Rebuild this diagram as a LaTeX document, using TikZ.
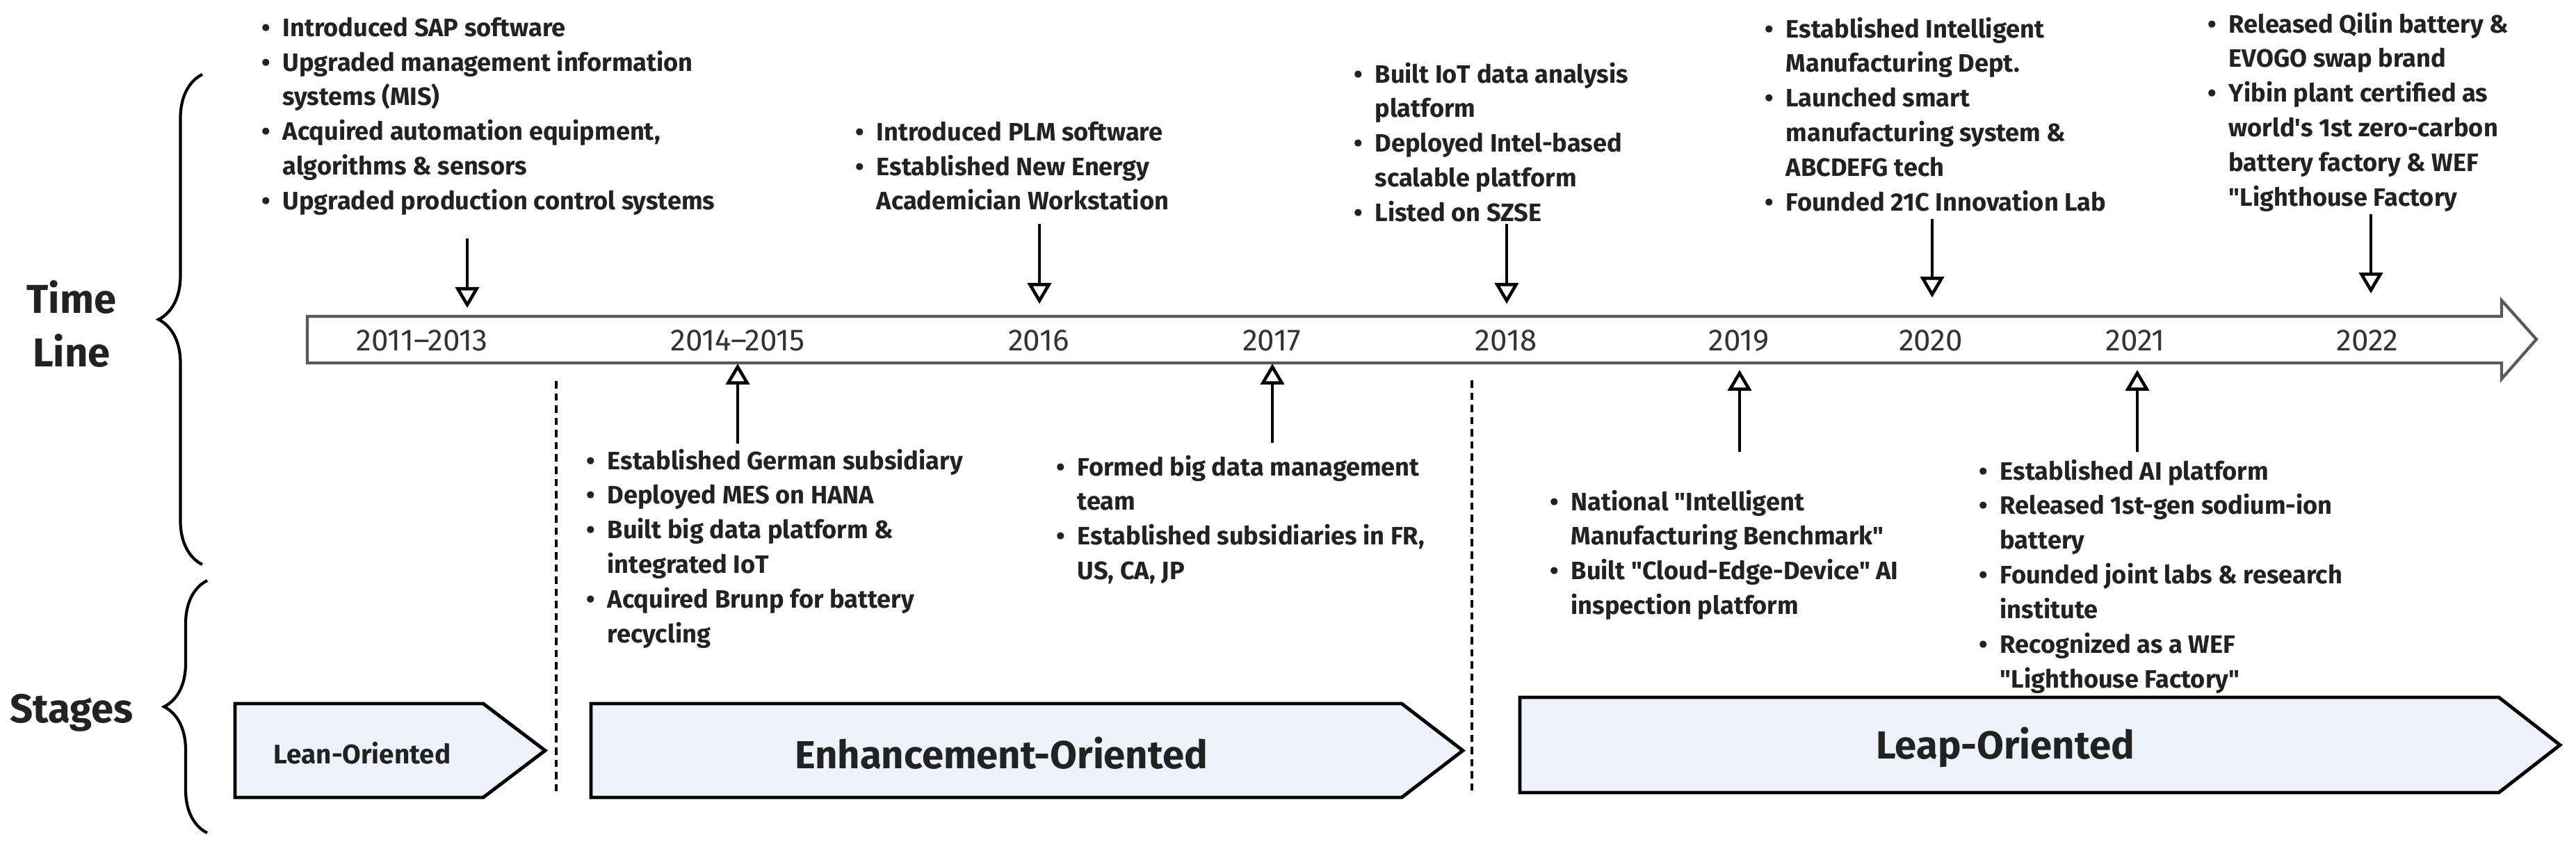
\documentclass[tikz,border=0pt]{standalone}
\usepackage{fontspec}
\setmainfont{Fira Sans}
\usetikzlibrary{arrows.meta,
                decorations.pathreplacing}
\definecolor{stagefill}{RGB}{238,243,251}
\definecolor{ink}{RGB}{34,34,34}
\newcommand\bu{\makebox[3mm][l]{\textbullet}}
\newcommand\ci{\hspace*{3mm}}
\newcommand\qq{\textquotedbl}

\begin{document}
\begin{tikzpicture}[
        evt/.style = {align=left, inner sep=0pt, anchor=north west, text=ink,
                      font=\bfseries\fontsize{10.3}{14.2}\selectfont},
       year/.style = {text=black!80, font=\fontsize{12.5}{15}\selectfont},
      stage/.style = {draw=black, line width=1.4pt, fill=stagefill},
   stagelbl/.style = {text=ink, font=\bfseries\fontsize{#1}{#1}\selectfont},
       side/.style = {align=center, text=ink, font=\bfseries\fontsize{16.5}{22}\selectfont},
   bigbrace/.style = {decorate, decoration={brace, amplitude=#1}, line width=1.2pt},
   stagesep/.style = {dash pattern=on 3pt off 2pt, line width=1pt},
 every edge/.style = {draw, line width=1pt, -{Triangle[open, length=3mm, width=3.4mm, line width=1.3pt]}}
                        ]
\useasboundingbox (0,0) rectangle (37.05,-12.24);

\node (tl) at (1.03,-4.66) [side] {Time\\Line};
\node (st) at (1.03,-10.25) [side] {Stages};
\draw[bigbrace=6.3mm] (2.91,-8.12) -- (2.91,-1.07);
\draw[bigbrace=6.2mm] (2.98,-11.98) -- (2.98,-8.35);

% time line
\draw[draw=black!65, line width=1.2pt, fill=white]
      (4.42,-4.55) -- (35.98,-4.55) -- (35.98,-4.32) -- (36.48,-4.88)
   -- (35.98,-5.45) -- (35.98,-5.22) -- (4.42,-5.22) -- cycle;
\node (y11) at (6.07,-4.90) [year] {2011--2013};
\node (y14) at (10.61,-4.90) [year] {2014--2015};
\node (y16) at (14.94,-4.90) [year] {2016};
\node (y17) at (18.29,-4.90) [year] {2017};
\node (y18) at (21.66,-4.90) [year] {2018};
\node (y19) at (25.01,-4.90) [year] {2019};
\node (y20) at (27.77,-4.90) [year] {2020};
\node (y21) at (30.71,-4.90) [year] {2021};
\node (y22) at (34.05,-4.90) [year] {2022};

% events above
\node (e11) at (3.76,-0.24) [evt] {\bu Introduced SAP software\\
                                  \bu Upgraded management information\\
                                  \ci systems (MIS)\\
                                  \bu Acquired automation equipment,\\
                                  \ci algorithms \& sensors\\
                                  \bu Upgraded production control systems};
\node (e16) at (12.30,-1.74) [evt] {\bu Introduced PLM software\\
                                   \bu Established New Energy\\
                                   \ci Academician Workstation};
\node (e18) at (19.47,-0.89) [evt] {\bu Built IoT data analysis\\
                                   \ci platform\\
                                   \bu Deployed Intel-based\\
                                   \ci scalable platform\\
                                   \bu Listed on SZSE};
\node (e20) at (25.38,-0.24) [evt] {\bu Established Intelligent\\
                                   \ci Manufacturing Dept.\\
                                   \bu Launched smart\\
                                   \ci manufacturing system \&\\
                                   \ci ABCDEFG tech\\
                                   \bu Founded 21C Innovation Lab};
\node (e22) at (31.75,-0.17) [evt] {\bu Released Qilin battery \&\\
                                   \ci EVOGO swap brand\\
                                   \bu Yibin plant certified as\\
                                   \ci world\textquotesingle s 1st zero-carbon\\
                                   \ci battery factory \& WEF\\
                                   \ci \qq Lighthouse Factory};

% events below
\node (e14) at (8.43,-6.45) [evt] {\bu Established German subsidiary\\
                                  \bu Deployed MES on HANA\\
                                  \bu Built big data platform \&\\
                                  \ci integrated IoT\\
                                  \bu Acquired Brunp for battery\\
                                  \ci recycling};
\node (e17) at (15.19,-6.54) [evt] {\bu Formed big data management\\
                                   \ci team\\
                                   \bu Established subsidiaries in FR,\\
                                   \ci US, CA, JP};
\node (e19) at (22.29,-7.04) [evt] {\bu National \qq Intelligent\\
                                   \ci Manufacturing Benchmark\qq\\
                                   \bu Built \qq Cloud-Edge-Device\qq{} AI\\
                                   \ci inspection platform};
\node (e21) at (28.46,-6.60) [evt] {\bu Established AI platform\\
                                   \bu Released 1st-gen sodium-ion\\
                                   \ci battery\\
                                   \bu Founded joint labs \& research\\
                                   \ci institute\\
                                   \bu Recognized as a WEF\\
                                   \ci \qq Lighthouse Factory\qq};

\coordinate (s11) at (6.72,-3.43);  \coordinate (t11) at (6.72,-4.43);
\coordinate (s16) at (14.95,-3.22); \coordinate (t16) at (14.95,-4.37);
\coordinate (s18) at (21.67,-3.22); \coordinate (t18) at (21.67,-4.37);
\coordinate (s20) at (27.79,-3.15); \coordinate (t20) at (27.79,-4.28);
\coordinate (s22) at (34.10,-3.08); \coordinate (t22) at (34.10,-4.22);
\coordinate (s14) at (10.61,-6.38); \coordinate (t14) at (10.61,-5.23);
\coordinate (s17) at (18.30,-6.37); \coordinate (t17) at (18.30,-5.23);
\coordinate (s19) at (25.02,-6.50); \coordinate (t19) at (25.02,-5.32);
\coordinate (s21) at (30.74,-6.50); \coordinate (t21) at (30.74,-5.32);

\path   (s11) edge (t11)
        (s16) edge (t16)
        (s18) edge (t18)
        (s20) edge (t20)
        (s22) edge (t22)
        (s14) edge (t14)
        (s17) edge (t17)
        (s19) edge (t19)
        (s21) edge (t21);

% stages
\draw[stagesep] (8.00,-5.48) -- (8.00,-11.38);
\draw[stagesep] (21.17,-5.47) -- (21.17,-11.43);
\draw[stage] (3.38,-10.12) -- (6.95,-10.12) -- (7.84,-10.795)
          -- (6.95,-11.47) -- (3.38,-11.47) -- cycle;
\draw[stage] (8.50,-10.12) -- (20.16,-10.12) -- (21.04,-10.795)
          -- (20.16,-11.47) -- (8.50,-11.47) -- cycle;
\draw[stage] (21.86,-10.03) -- (35.94,-10.03) -- (36.82,-10.715)
          -- (35.94,-11.40) -- (21.86,-11.40) -- cycle;
\node (lean) at (5.21,-10.83) [stagelbl=11] {Lean-Oriented};
\node (enh) at (14.40,-10.83) [stagelbl=16] {Enhancement-Oriented};
\node (leap) at (28.84,-10.75) [stagelbl=16] {Leap-Oriented};
\end{tikzpicture}
\end{document}
